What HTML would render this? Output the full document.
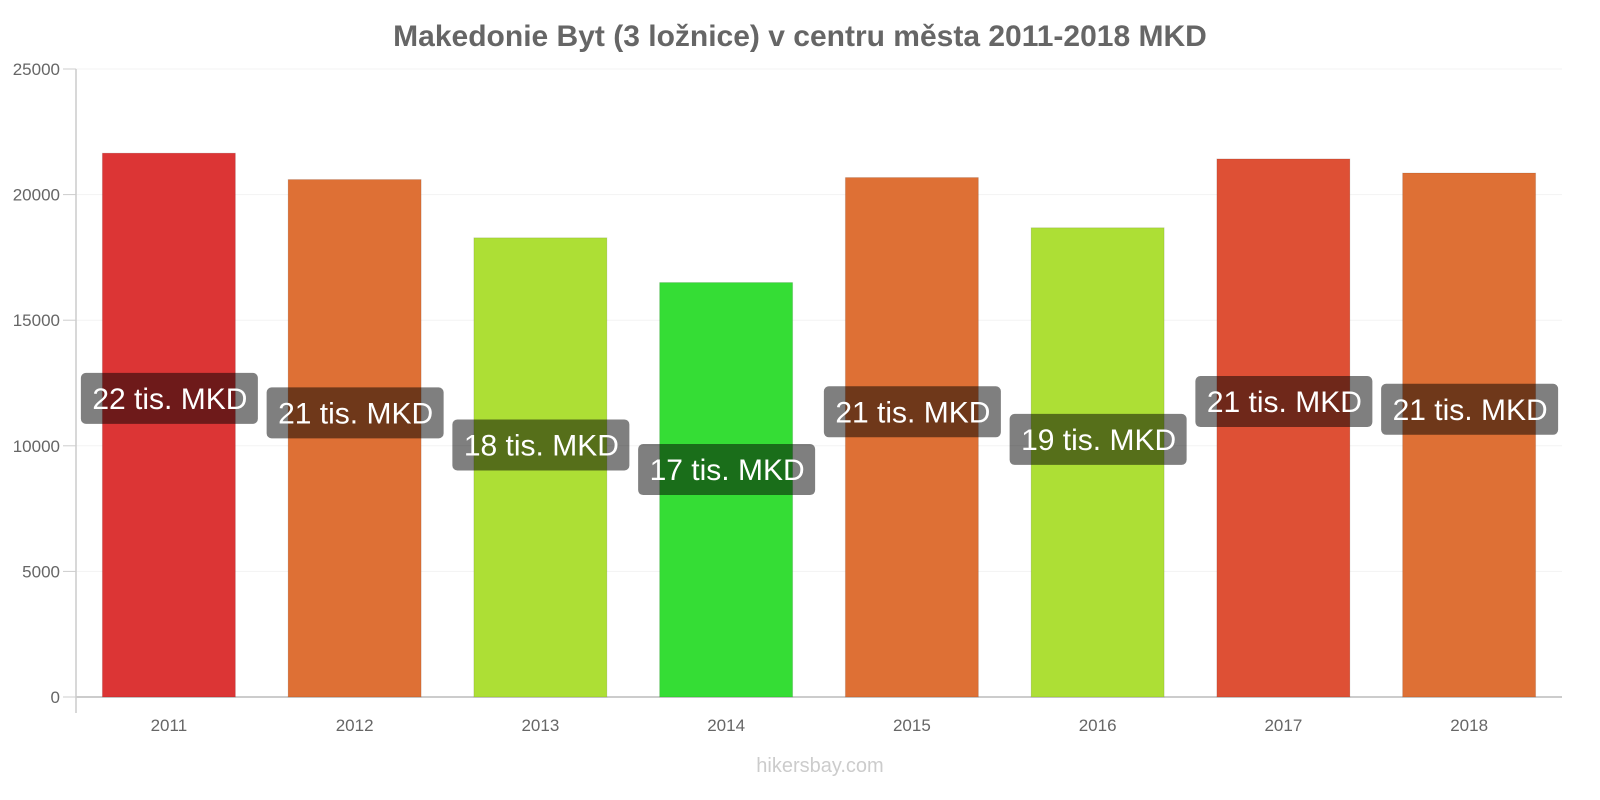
<!DOCTYPE html>
<html><head><meta charset="utf-8"><style>
html,body{margin:0;padding:0;background:#fff;width:1600px;height:800px;overflow:hidden;font-family:"Liberation Sans",sans-serif}
svg{display:block}
</style></head><body>
<svg width="1600" height="800" viewBox="0 0 1600 800" xmlns="http://www.w3.org/2000/svg">
<text x="800" y="46" text-anchor="middle" font-size="30" font-weight="bold" fill="#666">Makedonie Byt (3 ložnice) v centru města 2011-2018 MKD</text>
<g id="grid"></g><g id="bars"></g><g id="labels"></g>
<text x="820" y="772" text-anchor="middle" font-size="20" fill="#ccc">hikersbay.com</text>
</svg>
<script>
const categories=["2011","2012","2013","2014","2015","2016","2017","2018"];
const values=[21650,20600,18280,16500,20680,18680,21420,20860];
const valueLabels=["22 tis. MKD","21 tis. MKD","18 tis. MKD","17 tis. MKD","21 tis. MKD","19 tis. MKD","21 tis. MKD","21 tis. MKD"];
const colors=["#dc3535","#de7035","#addf35","#35dd35","#de7035","#addf35","#de5035","#de7035"];
const yTicks=[0,5000,10000,15000,20000,25000];
const NS="http://www.w3.org/2000/svg";
const L=76,R=1562,T=69,B=697,maxV=25000;
const y=v=>B-(v/maxV)*(B-T);
const band=(R-L)/categories.length;
const x=i=>L+band*i+band/2;
function mk(t,a,p){const e=document.createElementNS(NS,t);for(const k in a)e.setAttribute(k,a[k]);p.appendChild(e);return e;}
const g=document.getElementById('grid'),gb=document.getElementById('bars'),gl=document.getElementById('labels');
yTicks.forEach(v=>{
 if(v>0){const l=mk('line',{x1:L,x2:R,y1:y(v),y2:y(v),stroke:'#f3f3f3'},g);
 
 }
 const tk=mk('line',{x1:L-13,x2:L,y1:y(v),y2:y(v),stroke:'#ccc'},g);
 
 
 const t=mk('text',{x:L-16,y:y(v)+6,'text-anchor':'end','font-size':17,fill:'#666'},g);t.textContent=v;
 
 
});
const ya=mk('line',{x1:L,x2:L,y1:T,y2:B+16,stroke:'#ccc','stroke-width':1.5},g);


categories.forEach((c,i)=>{
 const top=y(values[i]),bw=133;
 const r=mk('rect',{x:x(i)-bw/2,y:top,width:bw,height:B-top,fill:colors[i],stroke:'rgba(0,0,0,0.1)'},gb);
 
 
 const t=mk('text',{x:x(i),y:B+34,'text-anchor':'middle','font-size':17,fill:'#666'},gb);t.textContent=c;
 
 
 const cy=top+(B-top)*0.45;
 const bx=mk('rect',{x:x(i)-88,y:cy-25,width:177,height:51,rx:5,fill:'rgba(0,0,0,0.5)'},gl);
 
 
 const lt=mk('text',{x:x(i)+1,y:cy+11,'text-anchor':'middle','font-size':30,fill:'#fff'},gl);lt.textContent=valueLabels[i];
 
 
});
const xa=mk('line',{x1:L,x2:R,y1:B,y2:B,stroke:'#ccc','stroke-width':2},g);


</script>
</body></html>
